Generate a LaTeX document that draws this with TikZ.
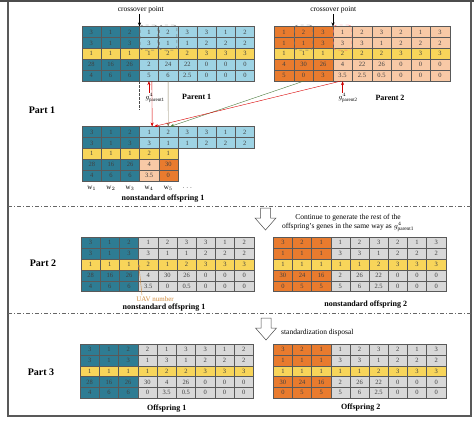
\documentclass[tikz,border=0pt]{standalone}
\usepackage{fontspec}
\setmainfont{Liberation Serif}
\usetikzlibrary{arrows.meta,fit}

\definecolor{geneteal}{HTML}{2E7C93}
\definecolor{geneblue}{HTML}{9ED3E4}
\definecolor{geneyellow}{HTML}{F8D55A}
\definecolor{geneorange}{HTML}{E97B2E}
\definecolor{genepeach}{HTML}{F8C9A6}
\definecolor{genegray}{HTML}{D8D8D8}
\definecolor{uavcol}{HTML}{D08A3A}
\definecolor{olivecol}{HTML}{8A8060}
\definecolor{greencol}{HTML}{4A7A3A}

% chromosome grid: name, x, y (top left), cell width, left colour, right colour, rows
\newcommand{\genegrid}[7]{%
  \foreach \row [count=\r] in {#7}{
    \foreach \v [count=\c] in \row {
      \ifnum\r=3 \def\cellcol{geneyellow}\else
        \ifnum\c<4 \def\cellcol{#5}\else\def\cellcol{#6}\fi\fi
      \node[cell, fill=\cellcol, minimum width=#4pt] (#1-\r-\c)
        at ({#2+(\c-0.5)*#4}, {#3+(\r-0.5)*10.85}) {\v};
    }
  }%
}

\begin{document}
\begin{tikzpicture}[x=1pt,y=-1pt,
    cell/.style={draw=black!65, line width=0.4pt, inner sep=0pt,
      minimum height=10.85pt, text=black!75, font=\fontsize{6.5}{7}\selectfont},
    partlbl/.style={font=\fontsize{10}{12}\selectfont\bfseries},
    parlbl/.style={font=\fontsize{8}{10}\selectfont\bfseries},
    offlbl/.style={font=\fontsize{8}{10}\selectfont\bfseries},
    note/.style={font=\fontsize{7.5}{8.5}\selectfont, inner sep=1pt},
    glbl/.style={font=\fontsize{7}{8}\selectfont, inner sep=0.5pt},
    wlbl/.style={font=\fontsize{7}{8}\selectfont, inner sep=1pt},
    selbox/.style={draw=black!55, dashed, rounded corners=3pt, inner xsep=-1pt, inner ysep=1.5pt},
    sep/.style={black!60, line width=0.5pt, dash pattern=on 4pt off 2pt on 1pt off 2pt},
    hollow/.style={draw=black!70, fill=white, line width=0.5pt},
    tip/.style={-{Stealth[length=4pt,width=3pt]}}]

  \useasboundingbox (0,0) rectangle (474,433);

  % Frame
  \draw[black!65, line width=1.2pt] (8,1.5) rectangle (471,416);
  \draw[black!70, line width=2.5pt] (0,1.2) -- (474,1.2);

  % Separators
  \draw[sep] (8,206) -- (471,206);
  \draw[sep] (8,313.5) -- (471,313.5);

  % ---- Part 1 ----
  \node[partlbl] (part1) at (42,110) {Part 1};

  \genegrid{p1}{81.7}{26.7}{19.2}{geneteal}{geneblue}{
    {3,1,2,1,2,3,3,1,2},{3,1,3,3,1,1,2,2,2},{1,1,1,1,2,2,3,3,3},
    {28,16,26,2,24,22,0,0,0},{4,6,6,5,6,2.5,0,0,0}}
  \genegrid{p2}{274.3}{26.7}{19.5}{geneorange}{genepeach}{
    {1,2,3,1,2,3,2,1,3},{1,1,3,3,3,1,2,2,2},{1,1,1,2,2,2,3,3,3},
    {4,30,26,4,22,26,0,0,0},{5,0,3,3.5,2.5,0.5,0,0,0}}

  % crossover points
  \node[note] (cp1) at (140.8,9.5) {crossover point};
  \node[note] (cp2) at (333.3,9.5) {crossover point};
  \draw[tip] (cp1.south -| p1-1-3.north east) -- (p1-1-3.north east);
  \draw[tip] (cp2.south -| p2-1-3.north east) -- (p2-1-3.north east);
  \draw[black!70, line width=0.4pt, dash pattern=on 2.5pt off 1.5pt] (p1-5-3.south east) -- ++(0,29);

  % selected genes
  \node[selbox, fit=(p1-1-4)(p1-2-4)] (s1) {};
  \node[selbox, fit=(p1-1-5)(p1-2-5)] (s2) {};
  \node[selbox, fit=(p2-1-2)(p2-2-2)] (s3) {};
  \node[selbox, draw=red!55, fit=(p2-1-4)(p2-2-4)] (s4) {};

  \node[parlbl] (pa1) at (196.7,97) {Parent 1};
  \node[parlbl] (pa2) at (390,98) {Parent 2};
  \node[glbl] (g1) at (155,98) {$g^{4}_{\mathrm{parent1}}$};
  \node[glbl] (g2) at (348,98) {$g^{4}_{\mathrm{parent2}}$};
  \draw[red!80!black, tip] (g1.north -| p1-5-4.south) -- (p1-5-4.south);
  \draw[red!80!black, tip] (g2.north -| p2-5-4.south) -- (p2-5-4.south);

  \genegrid{n1}{82.3}{126.7}{19.1}{geneteal}{geneblue}{
    {3,1,2,1,2,3,3,1,2},{3,1,3,3,1,1,2,2,2},{1,1,1,2,1},{28,16,26},{4,6,6}}
  \node[cell, fill=genepeach, minimum width=19.1pt] (n1-4-4) at (n1-3-4 |- n1-4-1) {4};
  \node[cell, fill=geneorange, minimum width=19.1pt] (n1-4-5) at (n1-3-5 |- n1-4-1) {30};
  \node[cell, fill=genepeach, minimum width=19.1pt] (n1-5-4) at (n1-3-4 |- n1-5-1) {3.5};
  \node[cell, fill=geneorange, minimum width=19.1pt] (n1-5-5) at (n1-3-5 |- n1-5-1) {0};

  % genes passed to the offspring
  \draw[red!85!black, tip] ([xshift=3pt]p1-5-4.south) -- ([xshift=3pt]n1-1-4.north);
  \draw[olivecol, tip] (p1-5-5.south) -- (n1-1-5.north);
  \draw[greencol, tip] (p2-5-2.south) -- ([xshift=2pt]n1-1-5.north);
  \draw[red!85!black, tip] ([xshift=-2pt]p2-5-4.south) -- ([xshift=5pt]n1-1-4.north);

  \foreach \c in {1,...,5}
    \node[wlbl, yshift=-7pt] (w\c) at (n1-5-\c.south) {$\mathrm{w}_{\c}$};
  \node[wlbl] (wdots) at (n1-2-6 |- w1) {$\dots$};
  \node[offlbl] (t1) at (163,199) {nonstandard offspring 1};

  % ---- Part 2 ----
  \draw[hollow] (260.5,208) -- (270.5,208) -- (270.5,218) -- (276,218)
    -- (265.5,230) -- (255,218) -- (260.5,218) -- cycle;
  \node[note, align=center] (cont) at (348,223)
    {Continue to generate the rest of the\\offspring's genes in the same way as $g^{4}_{\mathrm{parent1}}$};

  \node[partlbl] (part2) at (43,263) {Part 2};

  \genegrid{l2}{81}{237.3}{19.2}{geneteal}{genegray}{
    {3,1,2,1,2,3,3,1,2},{3,1,3,3,1,1,2,2,2},{1,1,1,2,1,2,3,3,3},
    {28,16,26,4,30,26,0,0,0},{4,6,6,3.5,0,0.5,0,0,0}}
  \genegrid{r2}{273.3}{237.3}{19.16}{geneorange}{genegray}{
    {3,2,1,1,2,3,2,1,3},{1,1,1,3,3,1,2,2,2},{1,1,1,1,1,2,3,3,3},
    {30,24,16,2,26,22,0,0,0},{0,5,5,5,6,2.5,0,0,0}}

  \node[note, text=uavcol, font=\fontsize{7}{8}\selectfont] (uav) at (155,299) {UAV number};
  \draw[uavcol, line width=0.4pt, -{Stealth[length=2.5pt,width=2pt]}] ([xshift=-13pt]uav.north) -- (l2-3-3.east);
  \node[offlbl] (t2) at (164,307.7) {nonstandard offspring 1};
  \node[offlbl] (t3) at (365.7,305) {nonstandard offspring 2};

  % ---- Part 3 ----
  \draw[hollow] (261,318) -- (271,318) -- (271,328) -- (276.5,328)
    -- (266,340) -- (255.5,328) -- (261,328) -- cycle;
  \node[note, anchor=west] (std) at (280,333) {standardization disposal};

  \node[partlbl] (part3) at (41,372) {Part 3};

  \genegrid{l3}{80}{344}{19.25}{geneteal}{genegray}{
    {3,1,2,2,1,3,3,1,2},{3,1,3,1,3,1,2,2,2},{1,1,1,1,2,2,3,3,3},
    {28,16,26,30,4,26,0,0,0},{4,6,6,0,3.5,0.5,0,0,0}}
  \genegrid{r3}{273.3}{344}{19.16}{geneorange}{genegray}{
    {3,2,1,1,2,3,2,1,3},{1,1,1,3,3,1,2,2,2},{1,1,1,1,1,2,3,3,3},
    {30,24,16,2,26,22,0,0,0},{0,5,5,5,6,2.5,0,0,0}}

  \node[offlbl] (t4) at (166.7,408.7) {Offspring 1};
  \node[offlbl] (t5) at (360.7,408) {Offspring 2};

\end{tikzpicture}
\end{document}
